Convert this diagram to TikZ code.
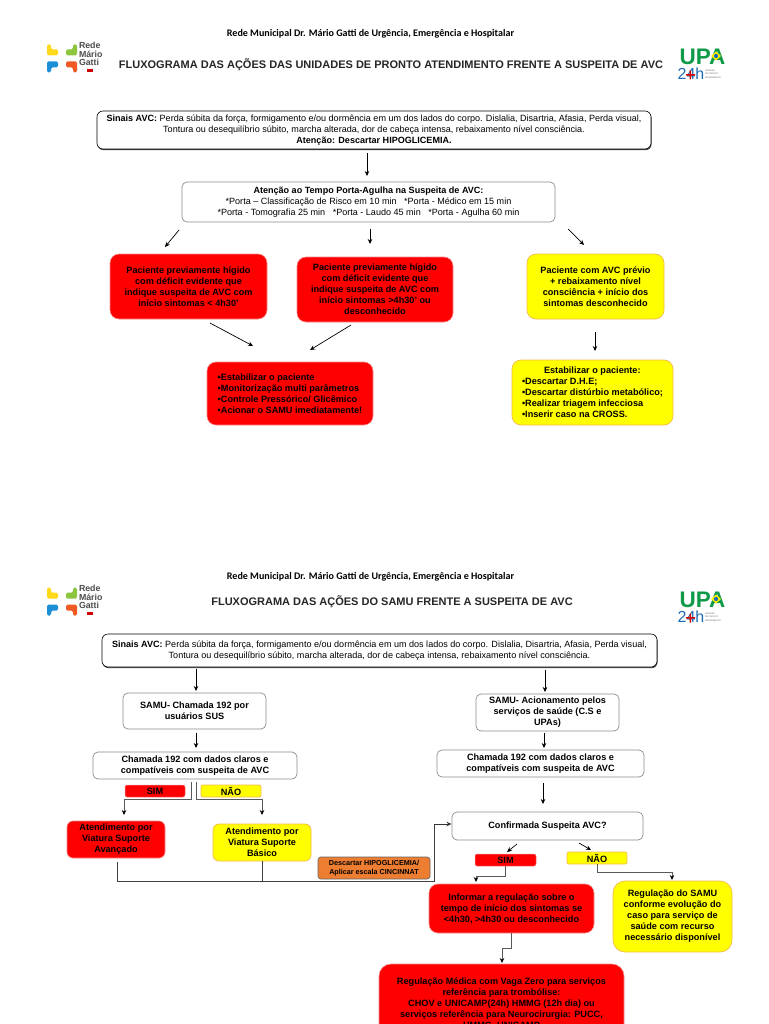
\documentclass[tikz,border=0pt]{standalone}
\usepackage{fontspec}
\setmainfont{Liberation Sans}
\newfontfamily\headfont{Carlito}
\usetikzlibrary{arrows.meta,shadows}
\definecolor{redb}{HTML}{F58A8A}
\definecolor{yelb}{HTML}{F2B94B}
\definecolor{greyb}{HTML}{8C8C8C}
\definecolor{orangebox}{HTML}{ED7D31}
\definecolor{upagreen}{HTML}{0E9A48}
\definecolor{upablue}{HTML}{1C6DB5}
\definecolor{yfill}{RGB}{255,255,0}
\definecolor{lyellow}{HTML}{FFD91A}
\definecolor{lgreen}{HTML}{8CC63F}
\definecolor{lblue}{HTML}{1C8FD6}
\definecolor{lorange}{HTML}{F15A24}
\newcommand{\bodyfs}{\fontsize{9.05}{11}\selectfont}
\newcommand{\boxfs}{\fontsize{9.15}{11}\selectfont\bfseries}
\newcommand{\logopiece}[5]{\fill[#1,shift={(#2,#3)},xscale=#4,yscale=#5,rounded corners=1.5pt] (-5.5,-5.5)--(-1.5,-5.5)--(-1.5,-.5)--(5.5,-.5)--(5.5,5.5)--(-5.5,5.5)--cycle;}
\tikzset{
  x=1pt,y=-1pt,
  every node/.style={inner sep=0pt,outer sep=0pt,align=center,text=black},
  whitebox/.style={draw=greyb,line width=.7pt,fill=white,rounded corners=5pt,font=\bodyfs},
  signbox/.style={draw=black,line width=.6pt,fill=white,rounded corners=6pt,font=\bodyfs,
    drop shadow={shadow xshift=.6pt,shadow yshift=-1.2pt,fill=black!70,opacity=1}},
  redbox/.style={draw=redb,line width=.6pt,fill=red,rounded corners=9pt,font=\boxfs},
  yellowbox/.style={draw=yelb,line width=.7pt,fill=yfill,rounded corners=9pt,font=\boxfs},
  redtag/.style={draw=redb,line width=.5pt,fill=red,rounded corners=2pt,font=\boxfs},
  yellowtag/.style={draw=yelb,line width=.7pt,fill=yfill,rounded corners=2pt,font=\boxfs},
  orangetag/.style={draw=black!60,line width=.7pt,fill=orangebox,rounded corners=3pt,font=\fontsize{7.2}{9}\selectfont\bfseries},
  arr/.style={line width=.7pt,-{Stealth[length=5pt,width=4.5pt]}},
  link/.style={line width=.8pt,black!75},
  arrg/.style={line width=.8pt,black!65,-{Stealth[length=5pt,width=4.5pt,black]}},
  headtext/.style={font=\headfont\fontsize{10.05}{12}\selectfont\bfseries},
  titletext/.style={font=\fontsize{11}{13}\selectfont\bfseries,text=black!85},
  logotext/.style={align=left,anchor=north west,font=\fontsize{8.8}{8.2}\selectfont\bfseries,text=black!70},
  pics/redelogo/.style={code={
    \logopiece{lyellow}{52.5}{50}{1}{1}
    \logopiece{lgreen}{71.5}{50}{-1}{1}
    \logopiece{lblue}{52.5}{67}{1}{-1}
    \logopiece{lorange}{71.5}{67}{-1}{-1}
    \node[logotext] (-t) at (79,42.5) {Rede\\Mário\\Gatti};
    \fill[red!80!black] (87,69) rectangle (93,72);
  }},
  pics/upalogo/.style={code={
    \node[font=\fontsize{22.5}{23}\selectfont\bfseries,text=upagreen] (-u) at (702.5,56.5) {UPA};
    \fill[yfill!85!orange] (716,51.5)--(721,56)--(716,60.5)--(711,56)--cycle;
    \fill[upablue] (716,56) circle (2.1);
    \node[font=\fontsize{16}{16}\selectfont,text=upablue] (-h) at (691,74) {24h};
    \fill[red!85!black] (689.5,70.5) rectangle (691,79.5) (686,74.2) rectangle (695,75.6);
    \node[font=\fontsize{2.2}{3.6}\selectfont,text=black!60,align=left,anchor=west] (-s) at (705,74) {UNIDADE\\DE PRONTO\\ATENDIMENTO};
  }}
}
\begin{document}
\begin{tikzpicture}
\useasboundingbox (0,0) rectangle (768,1024);
\fill[white] (0,0) rectangle (768,1024);
\clip (0,0) rectangle (768,1024);

% --- page 1
\node[headtext] (h1) at (370.5,33.5) {Rede Municipal Dr. Mário Gatti de Urgência, Emergência e Hospitalar};
\pic (la) at (0,0) {redelogo};
\pic (ua) at (0,0) {upalogo};
\node[titletext] (t1) at (391,64.5) {FLUXOGRAMA DAS AÇÕES DAS UNIDADES DE PRONTO ATENDIMENTO FRENTE A SUSPEITA DE AVC};

\node[signbox,minimum width=554,minimum height=38] (b1) at (374,130) {\textbf{Sinais AVC:} Perda súbita da força, formigamento e/ou dormência em um dos lados do corpo. Dislalia, Disartria, Afasia, Perda visual,\\Tontura ou desequilíbrio súbito, marcha alterada, dor de cabeça intensa, rebaixamento nível consciência.\\\textbf{Atenção: Descartar HIPOGLICEMIA.}};
\node[whitebox,minimum width=373,minimum height=40] (b2) at (368.5,202) {\textbf{Atenção ao Tempo Porta-Agulha na Suspeita de AVC:}\\*Porta – Classificação de Risco em 10 min \ \ *Porta - Médico em 15 min\\*Porta - Tomografia 25 min \ \ *Porta - Laudo 45 min \ \ *Porta - Agulha 60 min};
\node[redbox,minimum width=157,minimum height=65] (r1) at (188.5,286.5) {Paciente previamente hígido\\com déficit evidente que\\indique suspeita de AVC com\\início sintomas < 4h30'};
\node[redbox,minimum width=156,minimum height=65] (r2) at (375,289.5) {Paciente previamente hígido\\com déficit evidente que\\indique suspeita de AVC com\\início sintomas >4h30' ou\\desconhecido};
\node[yellowbox,minimum width=137,minimum height=65] (y1) at (595.5,286.5) {Paciente com AVC prévio\\+ rebaixamento nível\\consciência + início dos\\sintomas desconhecido};
\node[redbox,minimum width=166,minimum height=63,align=left] (r3) at (290,393.5) {•Estabilizar o paciente\\•Monitorização multi parâmetros\\•Controle Pressórico/ Glicêmico\\•Acionar o SAMU imediatamente!};
\node[yellowbox,minimum width=161,minimum height=65,align=left] (y2) at (592.5,392.5) {\hspace*{22pt}Estabilizar o paciente:\\•Descartar D.H.E;\\•Descartar distúrbio metabólico;\\•Realizar triagem infecciosa\\•Inserir caso na CROSS.};

\draw[arr] ([shift={(-7,4)}]b1.south) -- ([shift={(-1.5,-6)}]b2.north);
\draw[arr] ([shift={(-189.5,8)}]b2.south) -- ([shift={(-23.5,-7)}]r1.north);
\draw[arr] ([shift={(1.5,7)}]b2.south) -- ([shift={(-5,-13)}]r2.north);
\draw[arr] ([shift={(199.5,7)}]b2.south) -- ([shift={(-11.5,-9)}]y1.north);
\draw[arr] ([shift={(21.5,4)}]r1.south) -- ([shift={(-37,-16)}]r3.north);
\draw[arr] ([shift={(-24,3)}]r2.south) -- ([shift={(20,-12)}]r3.north);
\draw[arr] ([shift={(-.5,13)}]y1.south) -- ([shift={(2.5,-9)}]y2.north);

% --- page 2
\node[headtext] (h2) at (370.5,577) {Rede Municipal Dr. Mário Gatti de Urgência, Emergência e Hospitalar};
\pic (lb) at (0,543) {redelogo};
\pic (ub) at (0,543) {upalogo};
\node[titletext] (t2) at (392,601.5) {FLUXOGRAMA DAS AÇÕES DO SAMU FRENTE A SUSPEITA DE AVC};

\node[signbox,minimum width=555,minimum height=33] (b3) at (379.5,650.5) {\textbf{Sinais AVC:} Perda súbita da força, formigamento e/ou dormência em um dos lados do corpo. Dislalia, Disartria, Afasia, Perda visual,\\Tontura ou desequilíbrio súbito, marcha alterada, dor de cabeça intensa, rebaixamento nível consciência.};
\node[whitebox,minimum width=143,minimum height=36,font=\boxfs] (s1) at (194.5,711) {SAMU- Chamada 192 por\\usuários SUS};
\node[whitebox,minimum width=143,minimum height=37,font=\boxfs] (s2) at (547.5,712.5) {SAMU- Acionamento pelos\\serviços de saúde (C.S e\\UPAs)};
\node[whitebox,minimum width=204,minimum height=27,font=\boxfs] (cl) at (195,765.5) {Chamada 192 com dados claros e\\compatíveis com suspeita de AVC};
\node[whitebox,minimum width=207,minimum height=27,font=\boxfs] (cr) at (540.5,763.5) {Chamada 192 com dados claros e\\compatíveis com suspeita de AVC};
\node[redtag,minimum width=60,minimum height=12] (sl) at (155,791) {SIM};
\node[yellowtag,minimum width=60,minimum height=12] (nl) at (231,791) {NÃO};
\node[redbox,minimum width=98,minimum height=37,rounded corners=6pt] (av) at (116,839.5) {Atendimento por\\Viatura Suporte\\Avançado};
\node[yellowbox,minimum width=98,minimum height=37,rounded corners=6pt] (bs) at (262,842.5) {Atendimento por\\Viatura Suporte\\Básico};
\node[orangetag,minimum width=112,minimum height=22] (og) at (374,868) {Descartar HIPOGLICEMIA/\\Aplicar escala CINCINNAT};
\node[whitebox,minimum width=191,minimum height=28,font=\boxfs] (cf) at (547.5,826) {Confirmada Suspeita AVC?};
\node[redtag,minimum width=61,minimum height=12] (sr) at (505.5,860) {SIM};
\node[yellowtag,minimum width=60,minimum height=12] (nr) at (597,858) {NÃO};
\node[redbox,minimum width=165,minimum height=49] (in) at (511.5,908.5) {Informar a regulação sobre o\\tempo de início dos sintomas se\\<4h30, >4h30 ou desconhecido};
\node[yellowbox,minimum width=119,minimum height=71,rounded corners=12pt] (rs) at (672.5,916.5) {Regulação do SAMU\\conforme evolução do\\caso para serviço de\\saúde com recurso\\necessário disponível};
\node[redbox,minimum width=245,minimum height=79,rounded corners=12pt] (rm) at (501.5,1003.5) {Regulação Médica com Vaga Zero para serviços\\referência para trombólise:\\CHOV e UNICAMP(24h) HMMG (12h dia) ou\\serviços referência para Neurocirurgia: PUCC,\\HMMG, UNICAMP};

\draw[arr] ([shift={(1.5,2)}]s1.north |- b3.south) -- ([shift={(1.5,-2)}]s1.north);
\draw[arr,line width=.5pt] ([shift={(-2.5,3)}]s2.north |- b3.south) -- ([shift={(-2.5,-2)}]s2.north);
\draw[arr] ([shift={(1.5,4)}]s1.south) -- ([shift={(1,-4)}]cl.north);
\draw[arr] ([shift={(-3.5,2)}]s2.south) -- ([shift={(3.5,-2)}]cr.north);
\coordinate (ka) at (124,799);
\coordinate (kb) at (262,799);
\draw[arrg] ([shift={(-4,3)}]cl.south) |- (ka) -- ([shift={(8,-6)}]av.north);
\draw[arrg] ([shift={(1,3)}]cl.south) |- (kb) -- ([shift={(0,-9)}]bs.north);
\coordinate (ma) at (117,881);
\coordinate (mb) at (434,881);
\coordinate (mc) at (434,824);
\draw[link] ([shift={(1,4)}]av.south) -- (ma) -- (mb) -- (mc);
\draw[arr,black!80] (mc) -- ([xshift=-.5pt,yshift=2pt]cf.west);
\coordinate (mj) at (262,881);
\draw[link] (bs.south) -- (mj);
\draw[arr,line width=.6pt] ([shift={(2.5,6)}]cr.south) -- ([shift={(-4.5,-8)}]cf.north);
\draw[arr] ([shift={(-30.5,4)}]cf.south) -- ([shift={(1.5,-2)}]sr.north);
\draw[arr] ([shift={(31.5,3)}]cf.south) -- ([shift={(-6,-2)}]nr.north);
\coordinate (pa) at (476,876);
\coordinate (pb) at (672,872);
\draw[arrg] (sr.south) |- (pa) -- ([shift={(-35.5,-2)}]in.north);
\draw[arrg] (nr.south) |- (pb) -- ([shift={(-.5,-1)}]rs.north);
\coordinate (qa) at (502,948);
\draw[arrg] (in.south) |- (qa) -- ([shift={(.5,-1)}]rm.north);
\end{tikzpicture}
\end{document}
